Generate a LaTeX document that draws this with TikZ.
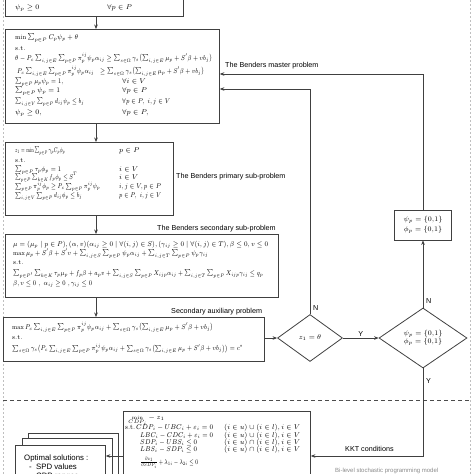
\documentclass[tikz,border=0pt]{standalone}
\usepackage{amsmath}
\usepackage{graphicx}
\usepackage{fontspec}
\newfontfamily\lab{Liberation Sans}
\usetikzlibrary{shapes.geometric,arrows.meta}
\newcommand{\fitw}[2]{\resizebox{#1pt}{\height}{#2}}
\begin{document}
\begin{tikzpicture}[x=1pt,y=-1pt,
  box/.style={draw=black!75, line width=0.8pt, fill=white, rectangle, inner sep=0pt, anchor=north west},
  eq/.style={anchor=base west, inner sep=0pt, font=\fontsize{6.6}{7}\selectfont},
  eqk/.style={eq, font=\fontsize{7}{8}\selectfont},
  lbl/.style={anchor=base west, inner sep=0pt, font=\lab\fontsize{7.2}{8}\selectfont},
  dlbl/.style={lbl, font=\lab\fontsize{7.8}{9}\selectfont},
  dia/.style={diamond, draw=black!75, line width=0.8pt, fill=white, inner sep=0pt, font=\fontsize{7}{8}\selectfont, align=center},
  arr/.style={draw=black!75, line width=0.7pt, -{Stealth[length=4.5pt,width=3.6pt]}},
  sep/.style={draw=black!70, line width=0.7pt, dash pattern=on 4pt off 3pt},
  frame/.style={draw=black!25, line width=0.8pt, dash pattern=on 2pt off 2pt}]
\useasboundingbox (0,0) rectangle (474,474);
\clip (0,0) rectangle (474,474);
\fill[white] (0,0) rectangle (474,474);
% frame and separator
\draw[frame] (3,0) -- (3,474);
\draw[frame] (470,0) -- (470,474);
\draw[sep] (3,400) -- (470,400);
% helper coordinates
\coordinate (ax) at (96,0);
\coordinate (ym) at (0,74);
\coordinate (yn) at (0,89);
\coordinate (yk) at (0,456);
% ---- top box (cut off) ----
\node[box, minimum width=178pt, minimum height=40pt, anchor=south west] (topbox) at (5,17) {};
\node[eq] (t1) at (15,9) {$\psi_p \ge 0$};
\node[eq] (t2) at (107,9) {$\forall p \in P$};
% ---- master ----
\node[box, minimum width=214pt, minimum height=94pt] (master) at (5,29) {};
\node[eq] (m1) at (15,39) {\fitw{63}{$\min \sum_{p\in P} C_p\psi_p + \theta$}};
\node[eq] (m2) at (15,50) {s.t.};
\node[eq] (m3) at (15,60) {\fitw{197}{$\theta - P_c \sum_{i,j\in E}\sum_{p\in P}\pi_p^{ij}\psi_p\alpha_{ij} \ge \sum_{s\in\Omega}\gamma_s\bigl(\sum_{i,j\in E}\mu_p + S'\beta + vb_j\bigr)$}};
\node[eq] (m4) at (17,73) {\fitw{187}{$P_c \sum_{i,j\in E}\sum_{p\in P}\pi_p^{ij}\psi_p\alpha_{ij} \ \ \ge \sum_{s\in\Omega}\gamma_s\bigl(\sum_{i,j\in E}\mu_p + S'\beta + vb_j\bigr)$}};
\node[eq] (m5) at (15,83) {\fitw{48}{$\sum_{p\in P}\mu_p\psi_p = 1,$}};
\node[eq] (m5r) at (122,83) {$\forall i\in V$};
\node[eq] (m6) at (15,92) {\fitw{45}{$\sum_{p\in P}\psi_p = 1$}};
\node[eq] (m6r) at (122,92) {$\forall p\in P$};
\node[eq] (m7) at (15,103) {\fitw{69}{$\sum_{i,j\in V}\sum_{p\in P} d_{ij}\psi_p \le b_j$}};
\node[eq] (m7r) at (122,103) {\fitw{48}{$\forall p\in P,\ i,j\in V$}};
\node[eq] (m8) at (15,114) {$\psi_p \ge 0,$};
\node[eq] (m8r) at (122,114) {$\forall p \in P,$};
% ---- primary ----
\node[box, minimum width=168pt, minimum height=73pt] (prim) at (5,142) {};
\node[eq] (p1) at (15,152) {\fitw{50}{$z_1 = \min\sum_{p\in P}\gamma_p C_p\phi_p$}};
\node[eq] (p1r) at (119,152) {$p\in P$};
\node[eq] (p2) at (15,162) {s.t.};
\node[eq] (p3) at (15,171) {\fitw{46}{$\sum_{p\in P}\tau_p\phi_p = 1$}};
\node[eq] (p3r) at (119,171) {$i\in V$};
\node[eq] (p4) at (15,179) {\fitw{62}{$\sum_{p\in P}\sum_{k\in K} f_p\phi_p \le S^T$}};
\node[eq] (p4r) at (119,179) {$i\in V$};
\node[eq] (p5) at (15,188.5) {\fitw{85}{$\sum_{p\in P}\pi_p^{ij}\phi_p \ge P_c\sum_{p\in P}\pi_p^{ij}\psi_p$}};
\node[eq] (p5r) at (119,188.5) {\fitw{42}{$i,j\in V, p\in P$}};
\node[eq] (p6) at (15,197.5) {\fitw{67}{$\sum_{i,j\in V}\sum_{p\in P} d_{ij}\phi_p \le b_j$}};
\node[eq] (p6r) at (119,197.5) {\fitw{42}{$p\in P,\ i,j\in V$}};
\node[lbl] (lp) at (176,178) {The Benders primary sub-problem};
% ---- secondary ----
\node[box, minimum width=273pt, minimum height=63pt] (sec) at (5,234) {};
\node[lbl] (ls) at (157,230) {The Benders secondary sub-problem};
\node[eq] (s1) at (13,246) {\fitw{255}{$\mu = (\mu_p \mid p\in P), (\alpha, v)(\alpha_{ij} \ge 0 \mid \forall(i,j)\in S), (\gamma_{ij}\ge 0\mid\forall(i,j)\in T), \beta\le 0, v\le 0$}};
\node[eq] (s2) at (13,255) {\fitw{195}{$\max \mu_p + S'\beta + S'v + \sum_{i,j\in S}\sum_{p\in P}\psi_p\alpha_{ij} + \sum_{i,j\in T}\sum_{p\in P}\psi_p\gamma_{ij}$}};
\node[eq] (s3) at (13,264) {s.t.};
\node[eq] (s4) at (13,275) {\fitw{250}{$\sum_{p\in P'}\sum_{k\in K}\tau_p\mu_p + f_p\beta + a_p v + \sum_{i,j\in S}\sum_{p\in P}X_{ijp}\alpha_{ij} + \sum_{i,j\in T}\sum_{p\in P}X_{ijp}\gamma_{ij} \le q_p$}};
\node[eq] (s5) at (13,285) {\fitw{79}{$\beta, v \le 0\ ,\ \alpha_{ij}\ge 0\ ,\gamma_{ij}\le 0$}};
% ---- auxiliary ----
\node[box, minimum width=261pt, minimum height=44pt] (aux) at (3,317) {};
\node[lbl] (la) at (171,313) {Secondary auxiliary problem};
\node[eq] (a1) at (12,329) {\fitw{201}{$\max P_c\sum_{i,j\in E}\sum_{p\in P}\pi_p^{ij}\psi_p\alpha_{ij} + \sum_{s\in\Omega}\gamma_s\bigl(\sum_{i,j\in E}\mu_p + S'\beta + vb_j\bigr)$}};
\node[eq] (a2) at (12,339) {s.t.};
\node[eq] (a3) at (12,350.5) {\fitw{231}{$\sum_{s\in\Omega}\gamma_s\bigl(P_c\sum_{i,j\in E}\sum_{p\in P}\pi_p^{ij}\psi_p\alpha_{ij} + \sum_{s\in\Omega}\gamma_s\bigl(\sum_{i,j\in E}\mu_p + S'\beta + vb_j\bigr)\bigr) = c^*$}};
% ---- diamonds ----
\node[dia, minimum width=65pt, minimum height=47pt] (d1) at (310,338) {$z_1 = \theta$};
\node[dia, minimum width=88pt, minimum height=60pt] (d2) at (423,338) {$\psi_p = \{0{,}1\}$\\$\phi_p = \{0{,}1\}$};
% ---- small box ----
\node[box, minimum width=57pt, minimum height=30pt, anchor=center, align=center, font=\fontsize{7}{10}\selectfont] (sbox) at (423,225) {$\psi_p = \{0{,}1\}$\\$\phi_p = \{0{,}1\}$};
% ---- KKT ----
\node[box, minimum width=187pt, minimum height=90pt] (kkt) at (123,411) {};
\node[eqk] (k1) at (128,419) {$\underset{CDP_i}{\scriptstyle\min} -z_1$};
\node[eqk] (k2) at (125,429) {\fitw{88}{s.t.\,$CDP_i - UBC_i + \varepsilon_i = 0$}};
\node[eqk] (k2r) at (224,429) {\fitw{76}{$(i\in u)\cup(i\in l), i\in V$}};
\node[eqk] (k3) at (140,437) {\fitw{73}{$LBC_i - CDC_i + \varepsilon_i = 0$}};
\node[eqk] (k3r) at (224,437) {\fitw{76}{$(i\in u)\cup(i\in l), i\in V$}};
\node[eqk] (k4) at (140,444) {\fitw{57}{$SDP_i - UBS_i \le 0$}};
\node[eqk] (k4r) at (224,444) {\fitw{76}{$(i\in u)\cap(i\in l), i\in V$}};
\node[eqk] (k5) at (140,451) {\fitw{57}{$LBS_i - SDP_i \le 0$}};
\node[eqk] (k5r) at (224,451) {\fitw{76}{$(i\in u)\cap(i\in l), i\in V$}};
\node[eqk] (k6) at (140,464) {\fitw{58}{$\frac{\partial z_1}{\partial SDP_i} + \lambda_{1i} - \lambda_{2i} \le 0$}};
% ---- stacked documents ----
\node[box, minimum width=90pt, minimum height=60pt] (doc3) at (28,433) {};
\node[box, minimum width=90pt, minimum height=60pt] (doc2) at (22,438) {};
\node[box, minimum width=90pt, minimum height=60pt] (doc1) at (15,445) {};
\node[dlbl] (o1) at (24,460) {Optimal solutions :};
\node[dlbl] (o2) at (29,469) {-\ \ SPD values};
\node[dlbl] (o3) at (29,478) {-\ \ CDP ranges};
\node[lbl, text=black!45, font=\lab\fontsize{6}{7}\selectfont] (note) at (335,472) {Bi-level stochastic programming model};
% ---- connectors ----
\draw[arr] (topbox.south -| ax) -- (master.north -| ax);
\draw[arr] (master.south -| ax) -- (prim.north -| ax);
\draw[arr] (prim.south -| ax) -- (sec.north -| ax);
\draw[arr] (sec.south -| ax) -- (aux.north -| ax);
\draw[arr] (aux.east |- d1.west) -- (d1.west);
\draw[arr] (d1.east) -- node[lbl, anchor=south, yshift=1pt] (ly1) {Y} (d2.west);
\draw[arr] (d1.north) |- (master.east |- yn);
\node[lbl, anchor=base west] (ln1) at (313,310) {N};
\draw[arr] (d2.north) -- (sbox.south);
\node[lbl, anchor=base west] (ln2) at (426,303) {N};
\draw[arr] (sbox.north) |- (master.east |- ym);
\node[lbl] (lm) at (225,67) {The Benders master problem};
\draw[arr] (d2.south) |- (kkt.east |- yk);
\node[lbl, anchor=base west] (ly2) at (426,383) {Y};
\node[lbl] (lk) at (345,451) {KKT conditions};
\draw[arr] (kkt.west |- yk) -- (doc1.east |- yk);
\end{tikzpicture}
\end{document}
